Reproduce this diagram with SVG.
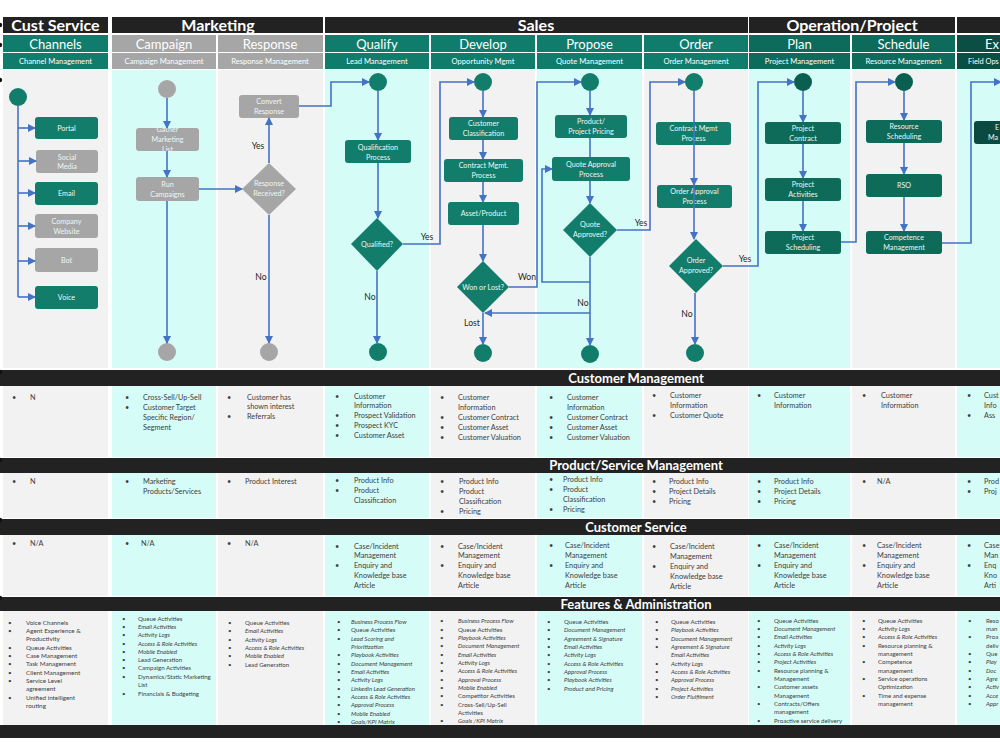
<svg xmlns="http://www.w3.org/2000/svg" width="1000" height="750" viewBox="0 0 1000 750">
<defs>
<marker id="ah" markerUnits="userSpaceOnUse" markerWidth="8" markerHeight="8" refX="7" refY="4" orient="auto"><path d="M0,0 L8,4 L0,8 Z" fill="#4472c4"/></marker>
<style>
text{font-family:Lato,"Liberation Sans",sans-serif}
.h1{font-size:16px;font-weight:bold;fill:#fff;text-anchor:middle}
.h2{font-size:13px;fill:#fff;text-anchor:middle}
.h3{font-size:7.6px;fill:#fff;text-anchor:middle}
.band{fill:#222}
.teal{fill:#0f7c6c}
.dteal{fill:#0c6b5b}
.xteal{fill:#0b4e43}
.grayh{fill:#a6a6a6}
.cy{fill:#d6fcf8}
.gy{fill:#f2f2f2}
.n{fill:#137d6c}
.nd{fill:#0e6a59}
.ng{fill:#a6a6a6}
.nt{font-size:7.2px;fill:#eef6f3;text-anchor:middle}
.lbl{font-size:8.6px;fill:#262626;text-anchor:middle}
.c{fill:none;stroke:#4472c4;stroke-width:1.6}
.ca{fill:none;stroke:#4472c4;stroke-width:1.6;marker-end:url(#ah)}
.t{font-size:7.3px;fill:#404040}
.f{font-size:6.1px;fill:#404040}
.fi{font-size:6.1px;fill:#404040;font-style:italic}
.fa{font-family:"Liberation Sans",Arial,sans-serif;font-size:6.3px;fill:#404040}
.bt{font-size:13px;font-weight:bold;fill:#fff;text-anchor:middle}
</style>
</defs>
<rect width="1000" height="750" fill="#fff"/>

<g id="headers">
<rect class="band" x="3" y="17" width="105" height="16"/>
<rect class="band" x="112" y="17" width="211" height="16"/>
<rect class="band" x="325" y="17" width="423" height="16"/>
<rect class="band" x="749" y="17" width="206" height="16"/>
<rect class="band" x="957" y="17" width="43" height="16"/>
<text class="h1" x="55.5" y="31">Cust Service</text>
<text class="h1" x="218" y="31">Marketing</text>
<text class="h1" x="536" y="31">Sales</text>
<text class="h1" x="852" y="31">Operation/Project</text>

<rect class="teal" x="3" y="35" width="105" height="17"/>
<rect class="grayh" x="112" y="35" width="104" height="17"/>
<rect class="grayh" x="218" y="35" width="105" height="17"/>
<rect class="teal" x="325" y="35" width="104" height="17"/>
<rect class="teal" x="431" y="35" width="104" height="17"/>
<rect class="teal" x="537" y="35" width="105" height="17"/>
<rect class="teal" x="644" y="35" width="104" height="17"/>
<rect class="dteal" x="749" y="35" width="101" height="17"/>
<rect class="dteal" x="852" y="35" width="103" height="17"/>
<rect class="xteal" x="957" y="35" width="43" height="17"/>
<text class="h2" x="55.5" y="49">Channels</text>
<text class="h2" x="164" y="49">Campaign</text>
<text class="h2" x="270" y="49">Response</text>
<text class="h2" x="377" y="49">Qualify</text>
<text class="h2" x="483" y="49">Develop</text>
<text class="h2" x="589.5" y="49">Propose</text>
<text class="h2" x="696" y="49">Order</text>
<text class="h2" x="799.5" y="49">Plan</text>
<text class="h2" x="903.5" y="49">Schedule</text>
<text x="985" y="49" style="font-size:13px;fill:#fff">Ex</text>

<rect class="teal" x="3" y="53" width="105" height="16"/>
<rect class="grayh" x="112" y="53" width="104" height="16"/>
<rect class="grayh" x="218" y="53" width="105" height="16"/>
<rect class="teal" x="325" y="53" width="104" height="16"/>
<rect class="teal" x="431" y="53" width="104" height="16"/>
<rect class="teal" x="537" y="53" width="105" height="16"/>
<rect class="teal" x="644" y="53" width="104" height="16"/>
<rect class="dteal" x="749" y="53" width="101" height="16"/>
<rect class="dteal" x="852" y="53" width="103" height="16"/>
<rect class="xteal" x="957" y="53" width="43" height="16"/>
<text class="h3" x="55.5" y="64">Channel Management</text>
<text class="h3" x="164" y="64">Campaign Management</text>
<text class="h3" x="270" y="64">Response Management</text>
<text class="h3" x="377" y="64">Lead Management</text>
<text class="h3" x="483" y="64">Opportunity Mgmt</text>
<text class="h3" x="589.5" y="64">Quote Management</text>
<text class="h3" x="696" y="64">Order Management</text>
<text class="h3" x="799.5" y="64">Project Management</text>
<text class="h3" x="903.5" y="64">Resource Management</text>
<text x="968" y="64" style="font-size:7.4px;fill:#fff">Field Ops</text>
</g>

<g id="columns">
<rect class="gy" x="3" y="70" width="105" height="298"/>
<rect class="cy" x="112" y="70" width="104" height="298"/>
<rect class="gy" x="218" y="70" width="105" height="298"/>
<rect class="cy" x="325" y="70" width="104" height="298"/>
<rect class="gy" x="431" y="70" width="104" height="298"/>
<rect class="cy" x="537" y="70" width="105" height="298"/>
<rect class="gy" x="644" y="70" width="104" height="298"/>
<rect class="cy" x="749" y="70" width="101" height="298"/>
<rect class="gy" x="852" y="70" width="103" height="298"/>
<rect class="cy" x="957" y="70" width="43" height="298"/>

<rect class="gy" x="3" y="386" width="105" height="71"/>
<rect class="cy" x="112" y="386" width="104" height="71"/>
<rect class="gy" x="218" y="386" width="105" height="71"/>
<rect class="cy" x="325" y="386" width="104" height="71"/>
<rect class="gy" x="431" y="386" width="104" height="71"/>
<rect class="cy" x="537" y="386" width="105" height="71"/>
<rect class="gy" x="644" y="386" width="104" height="71"/>
<rect class="cy" x="749" y="386" width="101" height="71"/>
<rect class="gy" x="852" y="386" width="103" height="71"/>
<rect class="cy" x="957" y="386" width="43" height="71"/>

<rect class="gy" x="3" y="473" width="105" height="45"/>
<rect class="cy" x="112" y="473" width="104" height="45"/>
<rect class="gy" x="218" y="473" width="105" height="45"/>
<rect class="cy" x="325" y="473" width="104" height="45"/>
<rect class="gy" x="431" y="473" width="104" height="45"/>
<rect class="cy" x="537" y="473" width="105" height="45"/>
<rect class="gy" x="644" y="473" width="104" height="45"/>
<rect class="cy" x="749" y="473" width="101" height="45"/>
<rect class="gy" x="852" y="473" width="103" height="45"/>
<rect class="cy" x="957" y="473" width="43" height="45"/>

<rect class="gy" x="3" y="535" width="105" height="61"/>
<rect class="cy" x="112" y="535" width="104" height="61"/>
<rect class="gy" x="218" y="535" width="105" height="61"/>
<rect class="cy" x="325" y="535" width="104" height="61"/>
<rect class="gy" x="431" y="535" width="104" height="61"/>
<rect class="cy" x="537" y="535" width="105" height="61"/>
<rect class="gy" x="644" y="535" width="104" height="61"/>
<rect class="cy" x="749" y="535" width="101" height="61"/>
<rect class="gy" x="852" y="535" width="103" height="61"/>
<rect class="cy" x="957" y="535" width="43" height="61"/>

<rect class="gy" x="3" y="611" width="105" height="114"/>
<rect class="cy" x="112" y="611" width="104" height="114"/>
<rect class="gy" x="218" y="611" width="105" height="114"/>
<rect class="cy" x="325" y="611" width="104" height="114"/>
<rect class="gy" x="431" y="611" width="104" height="114"/>
<rect class="cy" x="537" y="611" width="105" height="114"/>
<rect class="gy" x="644" y="611" width="104" height="114"/>
<rect class="cy" x="749" y="611" width="101" height="114"/>
<rect class="gy" x="852" y="611" width="103" height="114"/>
<rect class="cy" x="957" y="611" width="43" height="114"/>
</g>

<g id="bands">
<rect class="band" x="0" y="370" width="1000" height="16"/>
<rect class="band" x="0" y="458" width="1000" height="15"/>
<rect class="band" x="0" y="519" width="1000" height="16"/>
<rect class="band" x="0" y="597" width="1000" height="14"/>
<rect class="band" x="0" y="725" width="1000" height="13"/>
<text class="bt" x="636" y="383">Customer Management</text>
<text class="bt" x="636" y="470">Product/Service Management</text>
<text class="bt" x="636" y="532">Customer Service</text>
<text class="bt" x="636" y="609">Features &amp; Administration</text>
<circle cx="0" cy="25" r="2.2" fill="#111"/>
<circle cx="0" cy="45" r="2.2" fill="#111"/>
<circle cx="0" cy="80" r="2.2" fill="#111"/>
<circle cx="0" cy="372" r="2.2" fill="#111"/>
<circle cx="0" cy="460" r="2.2" fill="#111"/>
<circle cx="0" cy="520" r="2.2" fill="#111"/>
<circle cx="0" cy="598" r="2.2" fill="#111"/>
</g>

<!-- Channels -->
<g id="ch-start"><circle class="n" cx="18" cy="97" r="9"/></g>
<g id="ch-portal"><rect class="n" x="35" y="117" width="63" height="22" rx="3"/><text class="nt" x="66.5" y="130.5">Portal</text></g>
<g id="ch-social"><rect class="ng" x="36" y="150" width="62" height="23" rx="3"/><text class="nt" x="67" y="159.5">Social</text><text class="nt" x="67" y="169">Media</text></g>
<g id="ch-email"><rect class="n" x="35" y="182" width="63" height="23" rx="3"/><text class="nt" x="66.5" y="196">Email</text></g>
<g id="ch-web"><rect class="ng" x="35" y="214" width="63" height="24" rx="3"/><text class="nt" x="66.5" y="224">Company</text><text class="nt" x="66.5" y="233.5">Website</text></g>
<g id="ch-bot"><rect class="ng" x="35" y="248" width="63" height="24" rx="3"/><text class="nt" x="66.5" y="263">Bot</text></g>
<g id="ch-voice"><rect class="n" x="35" y="286" width="63" height="23" rx="3"/><text class="nt" x="66.5" y="300">Voice</text></g>

<!-- Campaign / Response -->
<g id="cp-start"><circle class="ng" cx="167" cy="89" r="9"/></g>
<g id="cp-gather"><rect class="ng" x="136" y="128" width="63" height="23" rx="3"/><text class="nt" x="167.5" y="132">Gather</text><text class="nt" x="167.5" y="142">Marketing</text><text class="nt" x="167.5" y="152">List</text></g>
<g id="cp-run"><rect class="ng" x="136" y="177" width="63" height="24" rx="3"/><text class="nt" x="167.5" y="186.5">Run</text><text class="nt" x="167.5" y="196.5">Campaigns</text></g>
<g id="cp-end"><circle class="ng" cx="167" cy="352" r="9"/></g>
<g id="rs-decision"><polygon class="ng" points="269,163 296,189 269,215 242,189"/><text class="nt" x="269" y="186">Response</text><text class="nt" x="269" y="196">Received?</text></g>
<g id="rs-convert"><rect class="ng" x="239" y="95" width="60" height="23" rx="3"/><text class="nt" x="269" y="104">Convert</text><text class="nt" x="269" y="114">Response</text></g>
<g id="rs-end"><circle class="ng" cx="269" cy="352" r="9"/></g>

<!-- Qualify -->
<g id="q-start"><circle class="n" cx="378" cy="82" r="9"/></g>
<g id="q-proc"><rect class="n" x="345" y="140" width="66" height="23" rx="3"/><text class="nt" x="378" y="149.5">Qualification</text><text class="nt" x="378" y="159.5">Process</text></g>
<g id="q-dec"><polygon class="n" points="377,218 403,244 377,271 351,244"/><text class="nt" x="377" y="247">Qualified?</text></g>
<g id="q-end"><circle class="n" cx="378" cy="352" r="9"/></g>

<!-- Develop -->
<g id="d-start"><circle class="n" cx="483" cy="82" r="9"/></g>
<g id="d-class"><rect class="n" x="449" y="117" width="69" height="23" rx="3"/><text class="nt" x="483.5" y="126">Customer</text><text class="nt" x="483.5" y="136">Classification</text></g>
<g id="d-contract"><rect class="n" x="444" y="159" width="79" height="23" rx="3"/><text class="nt" x="483.5" y="168">Contract Mgmt.</text><text class="nt" x="483.5" y="178">Process</text></g>
<g id="d-asset"><rect class="n" x="448" y="202" width="71" height="23" rx="3"/><text class="nt" x="483.5" y="216">Asset/Product</text></g>
<g id="d-dec"><polygon class="n" points="483,261 509,287 483,313 457,287"/><text class="nt" x="483" y="290">Won or Lost?</text></g>
<g id="d-end"><circle class="n" cx="483" cy="353" r="9"/></g>

<!-- Propose -->
<g id="p-start"><circle class="n" cx="590" cy="82" r="9"/></g>
<g id="p-pricing"><rect class="n" x="555" y="115" width="72" height="23" rx="3"/><text class="nt" x="591" y="124">Product/</text><text class="nt" x="591" y="134">Project Pricing</text></g>
<g id="p-approval"><rect class="n" x="552" y="157" width="78" height="24" rx="3"/><text class="nt" x="591" y="166.5">Quote Approval</text><text class="nt" x="591" y="176.5">Process</text></g>
<g id="p-dec"><polygon class="n" points="590,203 617,230 590,257 563,230"/><text class="nt" x="590" y="227">Quote</text><text class="nt" x="590" y="237">Approved?</text></g>
<g id="p-end"><circle class="n" cx="590" cy="354" r="9"/></g>

<!-- Order -->
<g id="o-start"><circle class="n" cx="694" cy="82" r="9"/></g>
<g id="o-contract"><rect class="n" x="656" y="122" width="75" height="23" rx="3"/><text class="nt" x="693.5" y="131">Contract Mgmt</text><text class="nt" x="693.5" y="141">Process</text></g>
<g id="o-approval"><rect class="n" x="657" y="185" width="75" height="23" rx="3"/><text class="nt" x="694.5" y="194">Order Approval</text><text class="nt" x="694.5" y="204">Process</text></g>
<g id="o-dec"><polygon class="n" points="696,239 723,266 696,293 669,266"/><text class="nt" x="696" y="263">Order</text><text class="nt" x="696" y="273">Approved?</text></g>
<g id="o-end"><circle class="n" cx="695" cy="353" r="9"/></g>

<!-- Plan -->
<g id="pl-start"><circle fill="#0b5f51" cx="803" cy="82" r="9"/></g>
<g id="pl-contract"><rect class="nd" x="765" y="122" width="76" height="22" rx="3"/><text class="nt" x="803" y="130.5">Project</text><text class="nt" x="803" y="140.5">Contract</text></g>
<g id="pl-act"><rect class="nd" x="765" y="178" width="76" height="23" rx="3"/><text class="nt" x="803" y="187">Project</text><text class="nt" x="803" y="197">Activities</text></g>
<g id="pl-sched"><rect class="nd" x="765" y="231" width="76" height="23" rx="3"/><text class="nt" x="803" y="240">Project</text><text class="nt" x="803" y="250">Scheduling</text></g>

<!-- Schedule -->
<g id="s-start"><circle fill="#0b5f51" cx="904" cy="82" r="9"/></g>
<g id="s-res"><rect class="nd" x="866" y="120" width="76" height="23" rx="3"/><text class="nt" x="904" y="129">Resource</text><text class="nt" x="904" y="139">Scheduling</text></g>
<g id="s-rso"><rect class="nd" x="866" y="174" width="76" height="23" rx="3"/><text class="nt" x="904" y="188">RSO</text></g>
<g id="s-comp"><rect class="nd" x="866" y="231" width="76" height="23" rx="3"/><text class="nt" x="904" y="240">Competence</text><text class="nt" x="904" y="250">Management</text></g>

<!-- Execute (cut off at the edge) -->
<g id="x-node"><rect fill="#0b4a40" x="974" y="121" width="60" height="23" rx="3"/><text x="995" y="130" style="font-size:7.2px;fill:#eef6f3">E</text><text x="988" y="140" style="font-size:7.2px;fill:#eef6f3">Ma</text></g>

<g id="connectors">
<path class="c" d="M18,106 V297"/>
<path class="ca" d="M18,128 H35"/>
<path class="ca" d="M18,161 H36"/>
<path class="ca" d="M18,193 H35"/>
<path class="ca" d="M18,226 H35"/>
<path class="ca" d="M18,261 H35"/>
<path class="ca" d="M18,297 H35"/>
<path class="ca" d="M167,98 V128"/>
<path class="ca" d="M167,151 V177"/>
<path class="ca" d="M167,201 V343"/>
<path class="ca" d="M199,189 H242"/>
<path class="ca" d="M269,163 V118"/>
<path class="ca" d="M269,215 V343"/>
<path class="ca" d="M299,106 H331 V82 H369"/>
<path class="ca" d="M378,91 V140"/>
<path class="ca" d="M378,163 V218"/>
<path class="ca" d="M377,271 V343"/>
<path class="ca" d="M403,244 H440 V82 H474"/>
<path class="ca" d="M483,91 V117"/>
<path class="ca" d="M483,140 V159"/>
<path class="ca" d="M483,182 V202"/>
<path class="ca" d="M483,225 V261"/>
<path class="ca" d="M483,313 V344"/>
<path class="ca" d="M509,287 H537 V82 H581"/>
<path class="ca" d="M590,91 V115"/>
<path class="c" d="M590,138 V157"/>
<path class="ca" d="M590,181 V203"/>
<path class="ca" d="M590,257 V345"/>
<path class="ca" d="M590,282 H542 V169 H552"/>
<path class="ca" d="M590,313 H485"/>
<path class="ca" d="M617,230 H650 V82 H685"/>
<path class="c" d="M694,91 V122"/>
<path class="ca" d="M694,122 V185"/>
<path class="ca" d="M694,185 V239"/>
<path class="ca" d="M695,293 V344"/>
<path class="ca" d="M723,266 H758 V82 H794"/>
<path class="ca" d="M803,91 V122"/>
<path class="ca" d="M803,144 V178"/>
<path class="ca" d="M803,201 V231"/>
<path class="ca" d="M841,242 H856 V82 H895"/>
<path class="ca" d="M904,91 V120"/>
<path class="ca" d="M904,143 V174"/>
<path class="ca" d="M904,197 V231"/>
<path class="ca" d="M942,243 H971 V82 H1001"/>
<text class="lbl" x="258" y="149">Yes</text>
<text class="lbl" x="261" y="280">No</text>
<text class="lbl" x="370" y="300">No</text>
<text class="lbl" x="427" y="240">Yes</text>
<text class="lbl" x="527" y="280">Won</text>
<text class="lbl" x="472" y="326">Lost</text>
<text class="lbl" x="641" y="226">Yes</text>
<text class="lbl" x="583" y="306">No</text>
<text class="lbl" x="745" y="262">Yes</text>
<text class="lbl" x="687" y="317">No</text>
</g>

<g id="cust-mgmt" class="t">
<text x="12" y="400">•</text><text x="30" y="400">N</text>
<text x="125" y="400">•</text><text x="143" y="400">Cross-Sell/Up-Sell</text>
<text x="125" y="410">•</text><text x="143" y="410">Customer Target</text>
<text x="143" y="420">Specific Region/</text><text x="143" y="430">Segment</text>
<text x="227" y="400">•</text><text x="247" y="400">Customer has</text><text x="247" y="409">shown interest</text>
<text x="227" y="419">•</text><text x="247" y="419">Referrals</text>
<text x="335" y="399">•</text><text x="354" y="399">Customer</text><text x="354" y="408">Information</text>
<text x="335" y="418">•</text><text x="354" y="418">Prospect Validation</text>
<text x="335" y="428">•</text><text x="354" y="428">Prospect KYC</text>
<text x="335" y="438">•</text><text x="354" y="438">Customer Asset</text>
<text x="440" y="400">•</text><text x="458" y="400">Customer</text><text x="458" y="410">Information</text>
<text x="440" y="420">•</text><text x="458" y="420">Customer Contract</text>
<text x="440" y="430">•</text><text x="458" y="430">Customer Asset</text>
<text x="440" y="440">•</text><text x="458" y="440">Customer Valuation</text>
<text x="549" y="400">•</text><text x="567" y="400">Customer</text><text x="567" y="410">Information</text>
<text x="549" y="420">•</text><text x="567" y="420">Customer Contract</text>
<text x="549" y="430">•</text><text x="567" y="430">Customer Asset</text>
<text x="549" y="440">•</text><text x="567" y="440">Customer Valuation</text>
<text x="652" y="398">•</text><text x="670" y="398">Customer</text><text x="670" y="408">Information</text>
<text x="652" y="418">•</text><text x="670" y="418">Customer Quote</text>
<text x="757" y="398">•</text><text x="774" y="398">Customer</text><text x="774" y="408">Information</text>
<text x="862" y="398">•</text><text x="881" y="398">Customer</text><text x="881" y="408">Information</text>
<text x="967" y="398">•</text><text x="984" y="398">Cust</text><text x="984" y="408">Info</text>
<text x="967" y="418">•</text><text x="984" y="418">Ass</text>
</g>

<g id="prod-mgmt" class="t">
<text x="12" y="484">•</text><text x="30" y="484">N</text>
<text x="125" y="484">•</text><text x="143" y="484">Marketing</text><text x="143" y="494">Products/Services</text>
<text x="227" y="484">•</text><text x="245" y="484">Product Interest</text>
<text x="335" y="483">•</text><text x="354" y="483">Product Info</text>
<text x="335" y="493">•</text><text x="354" y="493">Product</text><text x="354" y="503">Classification</text>
<text x="440" y="484">•</text><text x="459" y="484">Product Info</text>
<text x="440" y="494">•</text><text x="459" y="494">Product</text><text x="459" y="504">Classification</text>
<text x="440" y="514">•</text><text x="459" y="514">Pricing</text>
<text x="549" y="482">•</text><text x="563" y="482">Product Info</text>
<text x="549" y="492">•</text><text x="563" y="492">Product</text><text x="563" y="502">Classification</text>
<text x="549" y="512">•</text><text x="563" y="512">Pricing</text>
<text x="652" y="484">•</text><text x="669" y="484">Product Info</text>
<text x="652" y="494">•</text><text x="669" y="494">Project Details</text>
<text x="652" y="504">•</text><text x="669" y="504">Pricing</text>
<text x="757" y="484">•</text><text x="774" y="484">Product Info</text>
<text x="757" y="494">•</text><text x="774" y="494">Project Details</text>
<text x="757" y="504">•</text><text x="774" y="504">Pricing</text>
<text x="862" y="484">•</text><text x="877" y="484">N/A</text>
<text x="967" y="484">•</text><text x="984" y="484">Prod</text>
<text x="967" y="494">•</text><text x="984" y="494">Proj</text>
</g>

<g id="cust-service" class="t">
<text x="12" y="546">•</text><text x="30" y="546">N/A</text>
<text x="125" y="546">•</text><text x="141" y="546">N/A</text>
<text x="227" y="546">•</text><text x="245" y="546">N/A</text>
<text x="335" y="549">•</text><text x="354" y="549">Case/Incident</text><text x="354" y="558">Management</text><text x="335" y="568">•</text><text x="354" y="568">Enquiry and</text><text x="354" y="578">Knowledge base</text><text x="354" y="588">Article</text>
<text x="440" y="549">•</text><text x="458" y="549">Case/Incident</text><text x="458" y="558">Management</text><text x="440" y="568">•</text><text x="458" y="568">Enquiry and</text><text x="458" y="578">Knowledge base</text><text x="458" y="588">Article</text>
<text x="549" y="548">•</text><text x="565" y="548">Case/Incident</text><text x="565" y="558">Management</text><text x="549" y="568">•</text><text x="565" y="568">Enquiry and</text><text x="565" y="578">Knowledge base</text><text x="565" y="588">Article</text>
<text x="652" y="549">•</text><text x="670" y="549">Case/Incident</text><text x="670" y="559">Management</text><text x="652" y="569">•</text><text x="670" y="569">Enquiry and</text><text x="670" y="579">Knowledge base</text><text x="670" y="589">Article</text>
<text x="757" y="548">•</text><text x="774" y="548">Case/Incident</text><text x="774" y="558">Management</text><text x="757" y="568">•</text><text x="774" y="568">Enquiry and</text><text x="774" y="578">Knowledge base</text><text x="774" y="588">Article</text>
<text x="862" y="548">•</text><text x="877" y="548">Case/Incident</text><text x="877" y="558">Management</text><text x="862" y="568">•</text><text x="877" y="568">Enquiry and</text><text x="877" y="578">Knowledge base</text><text x="877" y="588">Article</text>
<text x="967" y="548">•</text><text x="984" y="548">Case</text><text x="984" y="558">Man</text><text x="967" y="568">•</text><text x="984" y="568">Enq</text><text x="984" y="578">Kno</text><text x="984" y="588">Arti</text>
</g>

<g id="features">
<g class="fa">
<text x="8" y="624.5">•</text><text x="26" y="624.5">Voice Channels</text>
<text x="8" y="633">•</text><text x="26" y="633">Agent Experience &amp;</text>
<text x="26" y="641">Productivity</text>
<text x="8" y="649.5">•</text><text x="26" y="649.5">Queue Activities</text>
<text x="8" y="658">•</text><text x="26" y="658">Case Management</text>
<text x="8" y="666">•</text><text x="26" y="666">Task Management</text>
<text x="8" y="674.5">•</text><text x="26" y="674.5">Client Management</text>
<text x="8" y="682.5">•</text><text x="26" y="682.5">Service Level</text>
<text x="26" y="691">agreement</text>
<text x="8" y="700">•</text><text x="26" y="700">Unified intelligent</text>
<text x="26" y="707.5">routing</text>
</g>
<g class="f">
<text x="122" y="620.5">•</text><text x="138" y="620.5">Queue Activities</text>
<text x="122" y="629">•</text><text class="fi" x="138" y="629">Email Activities</text>
<text x="122" y="637">•</text><text class="fi" x="138" y="637">Activity Logs</text>
<text x="122" y="645.5">•</text><text class="fi" x="138" y="645.5">Access &amp; Role Activities</text>
<text x="122" y="654">•</text><text class="fi" x="138" y="654">Mobile Enabled</text>
<text x="122" y="662">•</text><text x="138" y="662">Lead Generation</text>
<text x="122" y="670">•</text><text x="138" y="670">Campaign Activities</text>
<text x="122" y="678.5">•</text><text x="138" y="678.5">Dynamics/Static Marketing</text>
<text x="138" y="687">List</text>
<text x="122" y="695.5">•</text><text x="138" y="695.5">Financials &amp; Budgeting</text>

<text x="228" y="625">•</text><text x="245" y="625">Queue Activities</text>
<text x="228" y="633">•</text><text class="fi" x="245" y="633">Email Activities</text>
<text x="228" y="641.5">•</text><text class="fi" x="245" y="641.5">Activity Logs</text>
<text x="228" y="650">•</text><text class="fi" x="245" y="650">Access &amp; Role Activities</text>
<text x="228" y="658">•</text><text class="fi" x="245" y="658">Mobile Enabled</text>
<text x="228" y="666.5">•</text><text x="245" y="666.5">Lead Generation</text>

<text x="337" y="624">•</text><text class="fi" x="351" y="624">Business Process Flow</text>
<text x="337" y="632.3">•</text><text x="351" y="632.3">Queue Activities</text>
<text x="337" y="640.6">•</text><text class="fi" x="351" y="640.6">Lead Scoring and</text>
<text class="fi" x="351" y="649">Prioritization</text>
<text x="337" y="657.3">•</text><text class="fi" x="351" y="657.3">Playbook Activities</text>
<text x="337" y="665.6">•</text><text class="fi" x="351" y="665.6">Document Management</text>
<text x="337" y="674">•</text><text class="fi" x="351" y="674">Email Activities</text>
<text x="337" y="682.3">•</text><text class="fi" x="351" y="682.3">Activity Logs</text>
<text x="337" y="690.6">•</text><text class="fi" x="351" y="690.6">LinkedIn Lead Generation</text>
<text x="337" y="699">•</text><text class="fi" x="351" y="699">Access &amp; Role Activities</text>
<text x="337" y="707.3">•</text><text class="fi" x="351" y="707.3">Approval Process</text>
<text x="337" y="715.6">•</text><text class="fi" x="351" y="715.6">Mobile Enabled</text>
<text x="337" y="724">•</text><text class="fi" x="351" y="724">Goals/KPI Matrix</text>

<text x="440" y="623.3">•</text><text class="fi" x="458" y="623.3">Business Process Flow</text>
<text x="440" y="631.6">•</text><text x="458" y="631.6">Queue Activities</text>
<text x="440" y="640">•</text><text class="fi" x="458" y="640">Playbook Activities</text>
<text x="440" y="648.3">•</text><text class="fi" x="458" y="648.3">Document Management</text>
<text x="440" y="656.6">•</text><text class="fi" x="458" y="656.6">Email Activities</text>
<text x="440" y="665">•</text><text class="fi" x="458" y="665">Activity Logs</text>
<text x="440" y="673.3">•</text><text class="fi" x="458" y="673.3">Access &amp; Role Activities</text>
<text x="440" y="681.6">•</text><text class="fi" x="458" y="681.6">Approval Process</text>
<text x="440" y="690">•</text><text class="fi" x="458" y="690">Mobile Enabled</text>
<text x="440" y="698.3">•</text><text x="458" y="698.3">Competitor Activities</text>
<text x="440" y="706.6">•</text><text x="458" y="706.6">Cross-Sell/Up-Sell</text>
<text x="458" y="715">Activities</text>
<text x="440" y="723.3">•</text><text class="fi" x="458" y="723.3">Goals /KPI Matrix</text>

<text x="547" y="624">•</text><text x="564" y="624">Queue Activities</text>
<text x="547" y="632.3">•</text><text class="fi" x="564" y="632.3">Document Management</text>
<text x="547" y="640.6">•</text><text class="fi" x="564" y="640.6">Agreement &amp; Signature</text>
<text x="547" y="649">•</text><text class="fi" x="564" y="649">Email Activities</text>
<text x="547" y="657.3">•</text><text class="fi" x="564" y="657.3">Activity Logs</text>
<text x="547" y="665.6">•</text><text class="fi" x="564" y="665.6">Access &amp; Role Activities</text>
<text x="547" y="674">•</text><text class="fi" x="564" y="674">Approval Process</text>
<text x="547" y="682.3">•</text><text class="fi" x="564" y="682.3">Playbook Activities</text>
<text x="547" y="690.6">•</text><text class="fi" x="564" y="690.6">Product and Pricing</text>

<text x="655" y="624">•</text><text x="671" y="624">Queue Activities</text>
<text x="655" y="632.3">•</text><text class="fi" x="671" y="632.3">Playbook Activities</text>
<text x="655" y="640.6">•</text><text class="fi" x="671" y="640.6">Document Management</text>
<text x="655" y="649">•</text><text class="fi" x="671" y="649">Agreement &amp; Signature</text>
<text class="fi" x="671" y="657.3">Email Activities</text>
<text x="655" y="665.6">•</text><text class="fi" x="671" y="665.6">Activity Logs</text>
<text x="655" y="674">•</text><text class="fi" x="671" y="674">Access &amp; Role Activities</text>
<text x="655" y="682.3">•</text><text class="fi" x="671" y="682.3">Approval Process</text>
<text x="655" y="690.6">•</text><text class="fi" x="671" y="690.6">Project Activities</text>
<text x="655" y="699">•</text><text class="fi" x="671" y="699">Order Fiulfilment</text>

<text x="757" y="622.6">•</text><text x="774" y="622.6">Queue Activities</text>
<text x="757" y="631">•</text><text class="fi" x="774" y="631">Document Management</text>
<text x="757" y="639.3">•</text><text class="fi" x="774" y="639.3">Email Activities</text>
<text x="757" y="647.6">•</text><text class="fi" x="774" y="647.6">Activity Logs</text>
<text x="757" y="656">•</text><text class="fi" x="774" y="656">Access &amp; Role Activities</text>
<text x="757" y="664.3">•</text><text class="fi" x="774" y="664.3">Project Activities</text>
<text x="757" y="672.6">•</text><text x="774" y="672.6">Resource planning &amp;</text>
<text x="774" y="681">Management</text>
<text x="757" y="689.3">•</text><text x="774" y="689.3">Customer assets</text>
<text x="774" y="697.6">Management</text>
<text x="757" y="706">•</text><text x="774" y="706">Contracts/Offers</text>
<text x="774" y="714.3">management</text>
<text x="757" y="722.6">•</text><text x="774" y="722.6">Proactive service delivery</text>

<text x="862" y="622.6">•</text><text x="878" y="622.6">Queue Activities</text>
<text x="862" y="631">•</text><text class="fi" x="878" y="631">Activity Logs</text>
<text x="862" y="639.3">•</text><text class="fi" x="878" y="639.3">Access &amp; Role Activities</text>
<text x="862" y="647.6">•</text><text x="878" y="647.6">Resource planning &amp;</text>
<text x="878" y="656">management</text>
<text x="862" y="664.3">•</text><text x="878" y="664.3">Competence</text>
<text x="878" y="672.6">management</text>
<text x="862" y="681">•</text><text x="878" y="681">Service operations</text>
<text x="878" y="689.3">Optimization</text>
<text x="862" y="697.6">•</text><text x="878" y="697.6">Time and expense</text>
<text x="878" y="706">management</text>

<text x="968" y="622.6">•</text><text x="986" y="622.6">Reso</text>
<text x="986" y="631">man</text>
<text x="968" y="639.3">•</text><text x="986" y="639.3">Proa</text>
<text x="986" y="647.6">deliv</text>
<text x="968" y="656">•</text><text x="986" y="656">Que</text>
<text x="968" y="664.3">•</text><text class="fi" x="986" y="664.3">Play</text>
<text x="968" y="672.6">•</text><text class="fi" x="986" y="672.6">Doc</text>
<text x="968" y="681">•</text><text class="fi" x="986" y="681">Agre</text>
<text x="968" y="689.3">•</text><text class="fi" x="986" y="689.3">Activ</text>
<text x="968" y="697.6">•</text><text class="fi" x="986" y="697.6">Acce</text>
<text x="968" y="706">•</text><text class="fi" x="986" y="706">Appr</text>
</g>
</g>
</svg>
